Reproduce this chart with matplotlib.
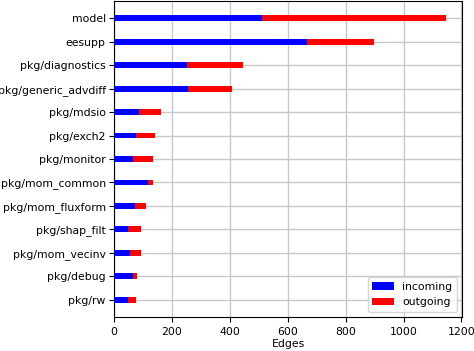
import matplotlib
matplotlib.use("Agg")
import matplotlib.pyplot as plt
import numpy as np

categories = ["model", "eesupp", "pkg/diagnostics", "pkg/generic_advdiff", "pkg/mdsio",
              "pkg/exch2", "pkg/monitor", "pkg/mom_common", "pkg/mom_fluxform",
              "pkg/shap_filt", "pkg/mom_vecinv", "pkg/debug", "pkg/rw"]
incoming = [510, 668, 253, 255, 85, 75, 66, 116, 71, 47, 54, 66, 47]
outgoing = [635, 230, 191, 153, 78, 67, 70, 17, 39, 47, 39, 15, 29]

fig = plt.figure(figsize=(4.74, 3.51), dpi=100)
ax = fig.add_axes([0.2405, 0.097, 0.7345, 0.9])
y = np.arange(len(categories))
ax.barh(y, incoming, height=0.25, color="#0000ff", label="incoming", zorder=3)
ax.barh(y, outgoing, left=incoming, height=0.25, color="#ff0000", label="outgoing", zorder=3)
ax.set_yticks(y)
ax.set_yticklabels(categories, fontsize=7.8)
ax.tick_params(axis="y", pad=2.5)
ax.invert_yaxis()
ax.set_xticks([0, 200, 400, 600, 800, 1000, 1200])
ax.tick_params(axis="x", labelsize=7.8)
ax.set_xlabel("Edges", fontsize=7.8, labelpad=2)
ax.grid(True, color="#c8c8c8", linewidth=1, zorder=0)
ax.set_axisbelow(True)
ax.legend(loc="lower right", fontsize=7.8)
fig.savefig("out.png", dpi=100)
